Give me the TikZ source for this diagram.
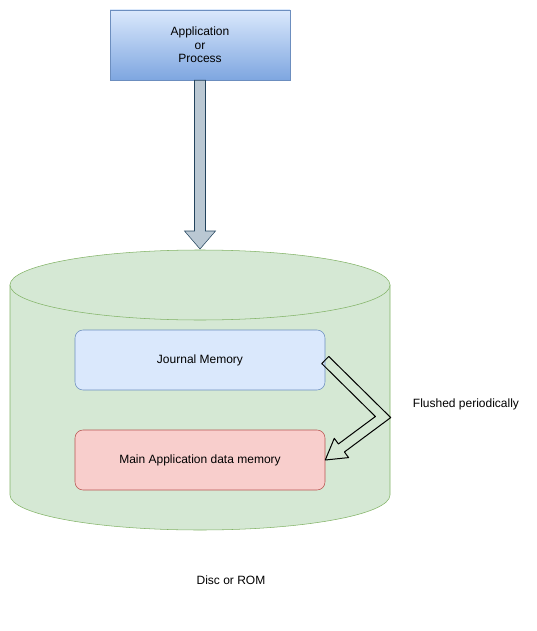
\documentclass[tikz,border=0pt]{standalone}
\usepackage{fontspec}
\setmainfont{Liberation Sans}
\usetikzlibrary{calc}
\definecolor{blueFill}{HTML}{DAE8FC}
\definecolor{blueDark}{HTML}{7EA6E0}
\definecolor{blueLine}{HTML}{6C8EBF}
\definecolor{greenFill}{HTML}{D5E8D4}
\definecolor{greenLine}{HTML}{82B366}
\definecolor{redFill}{HTML}{F8CECC}
\definecolor{redLine}{HTML}{B85450}
\definecolor{arrowFill}{HTML}{BAC8D3}
\definecolor{arrowLine}{HTML}{23445D}

\begin{document}
\begin{tikzpicture}[x=0.75pt,y=-0.75pt,
    every node/.style={font=\fontsize{9pt}{10.2pt}\selectfont},
    mem/.style={draw, rounded corners=6pt, minimum width=187.5pt, minimum height=45pt}]
    \useasboundingbox (0,0) rectangle (536,631);

    % Draw disc
    \coordinate (dtop) at (200,250);
    \fill[greenFill, draw=greenLine] (10,285) -- (10,495)
        arc[start angle=180, end angle=0, x radius=190, y radius=35] -- (390,285) -- cycle;
    \draw[greenLine, fill=greenFill] (200,285) ellipse [x radius=190, y radius=35];
    \node (disc) at (231,580) {Disc or ROM};

    % Application box and memories
    \node[draw=blueLine, top color=blueFill, bottom color=blueDark, minimum width=135pt,
        minimum height=52.5pt, align=center] (app) at (200,45) {Application\\or\\Process};
    \node[mem, draw=blueLine, fill=blueFill] (journal) at (200,360) {Journal Memory};
    \node[mem, draw=redLine, fill=redFill] (main) at (200,460) {Main Application data memory};
    \node (flush) at (466,404) {Flushed periodically};

    % Write arrow
    \draw[arrowLine, fill=arrowFill] ($(app.south)+(-5.5,0)$) -- ($(dtop)+(-5.5,-19)$)
        -- ($(dtop)+(-15.5,-19)$) -- ($(dtop)+(0,-1)$) -- ($(dtop)+(15.5,-19)$)
        -- ($(dtop)+(5.5,-19)$) -- ($(app.south)+(5.5,0)$) -- cycle;

    % Flush arrow
    \coordinate (fb) at (383,417);
    \coordinate (fh) at ($(fb)!0.72!(main.east)$);
    \coordinate (o1) at ($(journal.east)!3.75pt!90:(fb)$);
    \coordinate (o2) at ($(fb)!3.75pt!-90:(journal.east)$);
    \coordinate (o3) at ($(fb)!3.75pt!90:(fh)$);
    \coordinate (o4) at ($(fh)!3.75pt!-90:(fb)$);
    \coordinate (i1) at ($(journal.east)!3.75pt!-90:(fb)$);
    \coordinate (i2) at ($(fb)!3.75pt!90:(journal.east)$);
    \coordinate (i3) at ($(fb)!3.75pt!-90:(fh)$);
    \coordinate (i4) at ($(fh)!3.75pt!90:(fb)$);
    \coordinate (bo) at ($(fh)!9pt!-90:(fb)$);
    \coordinate (bi) at ($(fh)!9pt!90:(fb)$);
    \draw[line width=0.75pt, line join=round] (i1) -- (o1) -- (intersection of o1--o2 and o3--o4)
        -- (o4) -- (bo) -- (main.east) -- (bi) -- (i4)
        -- (intersection of i1--i2 and i3--i4) -- cycle;
\end{tikzpicture}
\end{document}
